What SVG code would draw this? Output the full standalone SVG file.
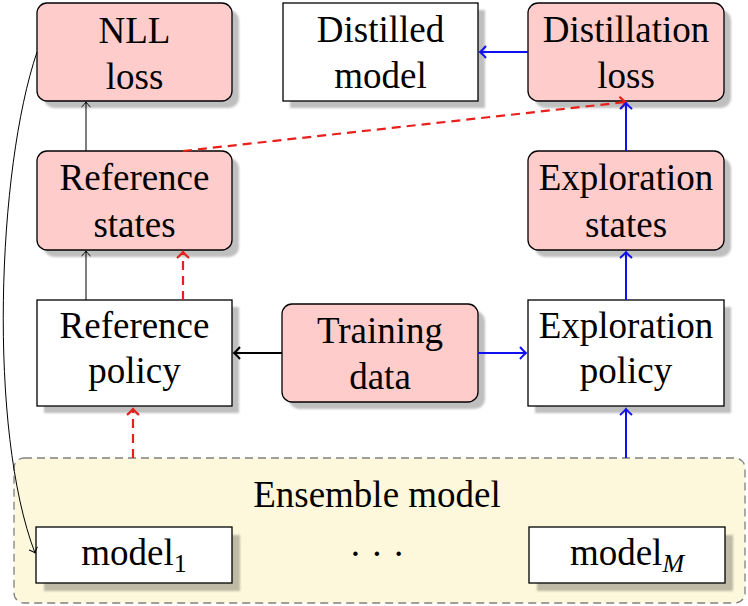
<svg xmlns="http://www.w3.org/2000/svg" width="748" height="606" viewBox="0 0 748 606" font-family="'Times New Roman', 'Liberation Serif', 'DejaVu Serif', serif">
<style>
  text { font-family: 'Times New Roman', 'Liberation Serif', 'DejaVu Serif', serif; font-size: 37px; fill: #000; text-anchor: middle; }
  .pink { fill: #ffcccc; stroke: #000; stroke-width: 1.3; }
  .white { fill: #fff; stroke: #000; stroke-width: 1.3; }
  .shadow { fill: #000; fill-opacity: 0.25; filter: url(#blur); }
  .thin { stroke: #000; stroke-width: 1; fill: none; }
  .blk { stroke: #000; stroke-width: 2; fill: none; }
  .blue { stroke: #1010f0; stroke-width: 2; fill: none; }
  .red { stroke: #e8201c; stroke-width: 2.2; fill: none; stroke-dasharray: 9 6; }
</style>
<defs>
  <filter id="blur" x="-10%" y="-10%" width="120%" height="120%">
    <feGaussianBlur stdDeviation="1.2"/>
  </filter>
  <marker id="aThin" markerUnits="userSpaceOnUse" markerWidth="14" markerHeight="14" refX="0" refY="0" viewBox="-8 -7 10 14" orient="auto">
    <path d="M-5,-4.5 Q-2,-1 0,0 Q-2,1 -5,4.5" fill="none" stroke="#000" stroke-width="1"/>
  </marker>
  <marker id="aBlk" markerUnits="userSpaceOnUse" markerWidth="16" markerHeight="16" refX="0" refY="0" viewBox="-9 -8 12 16" orient="auto">
    <path d="M-6,-6 Q-2,-1.5 0,0 Q-2,1.5 -6,6" fill="none" stroke="#000" stroke-width="2"/>
  </marker>
  <marker id="aBlue" markerUnits="userSpaceOnUse" markerWidth="16" markerHeight="16" refX="0" refY="0" viewBox="-9 -8 12 16" orient="auto">
    <path d="M-6,-6 Q-2,-1.5 0,0 Q-2,1.5 -6,6" fill="none" stroke="#1010f0" stroke-width="2"/>
  </marker>
  <marker id="aRed" markerUnits="userSpaceOnUse" markerWidth="16" markerHeight="16" refX="0" refY="0" viewBox="-9 -8 12 16" orient="auto">
    <path d="M-6,-6 Q-2,-1.5 0,0 Q-2,1.5 -6,6" fill="none" stroke="#e8201c" stroke-width="2.2"/>
  </marker>
</defs>

<g id="ensemble">
  <rect x="14" y="458" width="731" height="145" rx="10" fill="#fdf8dc" stroke="#808080" stroke-width="1.3" stroke-dasharray="8 5"/>
  <text x="377" y="507">Ensemble model</text>
  <text x="377" y="566">· · ·</text>
</g>

<g id="model1">
  <rect class="shadow" x="44" y="535" width="196" height="56"/>
  <rect class="white" x="36" y="527" width="196" height="56"/>
  <text x="134" y="565">model<tspan font-size="26" dy="7">1</tspan></text>
</g>

<g id="modelM">
  <rect class="shadow" x="537" y="535" width="196" height="56"/>
  <rect class="white" x="529" y="527" width="196" height="56"/>
  <text x="627" y="565">model<tspan font-size="26" font-style="italic" dy="7">M</tspan></text>
</g>

<g id="nll-loss">
  <rect class="shadow" x="44" y="10" width="195" height="98" rx="10"/>
  <rect class="pink" x="37" y="3" width="195" height="98" rx="10"/>
  <text x="134.5" y="43">NLL</text>
  <text x="134.5" y="89">loss</text>
</g>

<g id="distilled-model">
  <rect class="shadow" x="290" y="10" width="195" height="98"/>
  <rect class="white" x="283" y="3" width="195" height="98"/>
  <text x="380.5" y="42">Distilled</text>
  <text x="380.5" y="88">model</text>
</g>

<g id="distillation-loss">
  <rect class="shadow" x="535" y="10" width="196" height="98" rx="10"/>
  <rect class="pink" x="528" y="3" width="196" height="98" rx="10"/>
  <text x="626" y="42">Distillation</text>
  <text x="626" y="88">loss</text>
</g>

<g id="reference-states">
  <rect class="shadow" x="44" y="158" width="195" height="99" rx="10"/>
  <rect class="pink" x="37" y="151" width="195" height="99" rx="10"/>
  <text x="134.5" y="190">Reference</text>
  <text x="134.5" y="237">states</text>
</g>

<g id="exploration-states">
  <rect class="shadow" x="535" y="158" width="196" height="99" rx="10"/>
  <rect class="pink" x="528" y="151" width="196" height="99" rx="10"/>
  <text x="626" y="190">Exploration</text>
  <text x="626" y="237">states</text>
</g>

<g id="reference-policy">
  <rect class="shadow" x="44" y="307" width="195" height="106"/>
  <rect class="white" x="37" y="300" width="195" height="106"/>
  <text x="134.5" y="338">Reference</text>
  <text x="134.5" y="383">policy</text>
</g>

<g id="training-data">
  <rect class="shadow" x="289" y="311" width="196" height="98" rx="10"/>
  <rect class="pink" x="282" y="304" width="196" height="98" rx="10"/>
  <text x="380" y="343">Training</text>
  <text x="380" y="389">data</text>
</g>

<g id="exploration-policy">
  <rect class="shadow" x="535" y="307" width="196" height="106"/>
  <rect class="white" x="528" y="300" width="196" height="106"/>
  <text x="626" y="338">Exploration</text>
  <text x="626" y="383">policy</text>
</g>

<g id="connectors">
  <path class="thin" d="M86,151 L86,102" marker-end="url(#aThin)"/>
  <path class="thin" d="M86,300 L86,251" marker-end="url(#aThin)"/>
  <path class="thin" d="M37,52 C-3,170 -12,430 35,553" marker-end="url(#aThin)"/>
  <path class="red" d="M183,300 L183,252" marker-end="url(#aRed)"/>
  <path class="red" d="M183,151 L626,102" marker-end="url(#aRed)"/>
  <path class="red" d="M133,458 L133,409" marker-end="url(#aRed)"/>
  <path class="blk" d="M282,353 L234,353" marker-end="url(#aBlk)"/>
  <path class="blue" d="M478,353 L526,353" marker-end="url(#aBlue)"/>
  <path class="blue" d="M626,458 L626,409" marker-end="url(#aBlue)"/>
  <path class="blue" d="M626,300 L626,252" marker-end="url(#aBlue)"/>
  <path class="blue" d="M626,151 L626,103" marker-end="url(#aBlue)"/>
  <path class="blue" d="M528,52 L480,52" marker-end="url(#aBlue)"/>
</g>
</svg>
